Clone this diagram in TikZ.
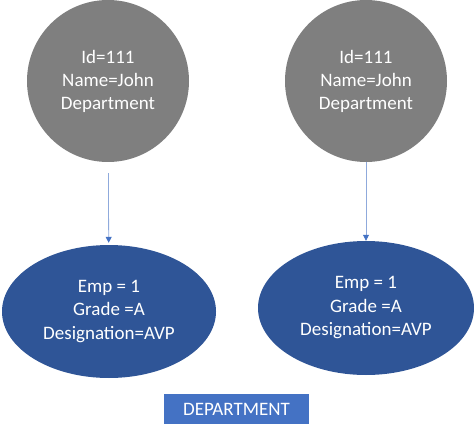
\documentclass[tikz,border=0pt]{standalone}
\usepackage{fontspec}
\setmainfont{Carlito}
\usepackage{xcolor}
\usetikzlibrary{shapes, arrows.meta, positioning, calc}

\definecolor{circgray}{HTML}{7F7F7F}
\definecolor{ellblue}{HTML}{2F5597}
\definecolor{boxblue}{HTML}{4472C4}
\definecolor{linkblue}{HTML}{8FAADC}

\tikzset{
    person/.style={circle, fill=circgray, minimum size=162pt, inner sep=0pt,
        text=white, align=center, font=\fontsize{19}{23}\selectfont},
    emprec/.style={ellipse, fill=ellblue, minimum width=214pt, minimum height=133pt,
        inner sep=0pt, text=white, align=center, font=\fontsize{19}{23.5}\selectfont},
    deptbox/.style={rectangle, fill=boxblue, minimum width=145pt, minimum height=30pt,
        inner sep=0pt, text=white, font=\fontsize{19}{20}\selectfont},
    link/.style={draw=linkblue, line width=0.8pt, -{Triangle[width=6pt,length=6pt,color=boxblue]}}
}

\begin{document}
\begin{tikzpicture}[x=1pt, y=-1pt]
    \useasboundingbox (0,0) rectangle (474,433);

    \node[person] (p1) at (108,81) {Id=111\\Name=John\\Department};
    \node[person] (p2) at (366,81) {Id=111\\Name=John\\Department};

    \node[emprec] (e1) at (109,311.5) {Emp = 1\\Grade =A\\Designation=AVP};
    \node[emprec, minimum width=216pt, minimum height=134pt] (e2) at (366,308) {Emp = 1\\Grade =A\\Designation=AVP};

    \node[deptbox] (dept) at (236.5,409) {DEPARTMENT};

    \draw[link, shorten <=11pt, shorten >=2pt] (p1) -- (e1);
    \draw[link] (p2) -- (e2);
\end{tikzpicture}
\end{document}
